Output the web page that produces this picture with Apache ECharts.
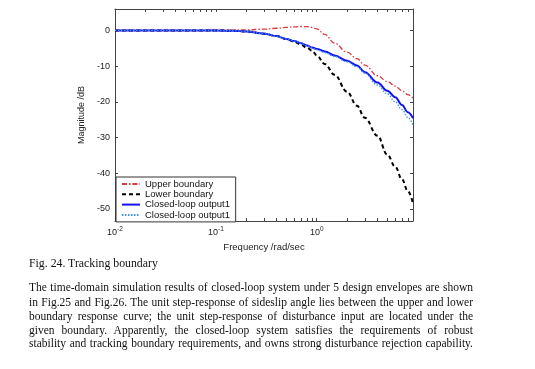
<!DOCTYPE html>
<html><head><meta charset="utf-8">
<script src="https://cdn.jsdelivr.net/npm/echarts@6/dist/echarts.min.js"></script>
<style>
html,body{margin:0;padding:0;background:#fff;}
#chart{position:absolute;left:0;top:0;width:535px;height:369px;}
.ln{position:absolute;left:29px;width:444px;height:14px;line-height:14px;font-family:"Liberation Serif",serif;font-size:11.5px;color:#111;text-align:justify;text-align-last:justify;white-space:nowrap;}
.cap{text-align:left;text-align-last:left;font-size:11.8px;}
</style>
</head><body>
<div id="chart"></div>
<div class="ln cap" style="top:256px">Fig. 24. Tracking boundary</div>
<div class="ln" style="top:280px">The time-domain simulation results of closed-loop system under 5 design envelopes are shown</div>
<div class="ln" style="top:295px">in Fig.25 and Fig.26. The unit step-response of sideslip angle lies between the upper and lower</div>
<div class="ln" style="top:309px">boundary response curve; the unit step-response of disturbance input are located under the</div>
<div class="ln" style="top:323px">given boundary. Apparently, the closed-loop system satisfies the requirements of robust</div>
<div class="ln" style="top:336px">stability and tracking boundary requirements, and owns strong disturbance rejection capability.</div>
<script>
const freq = [0.01, 0.02, 0.05, 0.1, 0.15, 0.2, 0.3, 0.4, 0.5, 0.6, 0.7, 0.8, 0.9, 1.0, 1.2, 1.5, 2, 2.5, 3, 4, 5, 6, 7, 8, 9];
const upperBoundary = [0, 0, 0, 0.05, 0.1, 0.15, 0.35, 0.6, 0.85, 1.0, 1.1, 1.05, 0.85, 0.45, -1.1, -3.6, -6.1, -7.9, -9.7, -12.7, -14.3, -15.6, -16.9, -18.0, -19.0];
const lowerBoundary = [0, 0, 0, -0.02, -0.1, -0.3, -0.9, -1.6, -2.4, -3.2, -4.0, -4.9, -5.7, -7.0, -9.4, -12.4, -17.2, -21.1, -24.5, -29.5, -34.8, -38.2, -41.7, -45.0, -48.5];
const closedLoopA = [0, 0, 0, -0.02, -0.1, -0.3, -0.9, -1.6, -2.4, -3.0, -3.6, -4.2, -4.8, -5.2, -5.9, -7.0, -8.5, -9.8, -11.7, -14.6, -16.9, -18.7, -20.9, -22.9, -24.6];
const closedLoopB = [0, 0, 0, -0.02, -0.1, -0.3, -0.9, -1.6, -2.4, -3.0, -3.6, -4.3, -4.9, -5.4, -6.2, -7.3, -8.8, -10.2, -12.0, -15.3, -17.8, -20.0, -22.2, -24.4, -26.5];
const seriesNames = ['Upper boundary', 'Lower boundary', 'Closed-loop output1', 'Closed-loop output1 '];
const xTickValues = [0.01,0.02,0.03,0.04,0.05,0.06,0.07,0.08,0.09,0.1,0.2,0.3,0.4,0.5,0.6,0.7,0.8,0.9,1,2,3,4,5,6,7,8,9];
const xLabelValues = [0.01, 0.1, 1];
const xLabelExponents = ['-2', '-1', '0'];
const yTickValues = [-50, -40, -30, -20, -10, 0];

const FONT = '"Liberation Sans", Arial, sans-serif';
const axisColor = '#444';
const pair = (vals) => freq.map((f, i) => [f, vals[i]]);

function xAxisDef(pos) {
  const bottom = pos === 'bottom';
  return {
    type: 'log', logBase: 10, min: 0.01, max: 9, position: pos,
    axisLine: { show: true, onZero: false, lineStyle: { color: axisColor, width: 1 } },
    axisTick: { show: true, inside: true, length: 3, customValues: xTickValues, lineStyle: { color: axisColor } },
    axisLabel: {
      show: bottom, customValues: xLabelValues, margin: 5,
      formatter: (v) => {
        const idx = xLabelValues.findIndex(x => Math.abs(x - v) < 1e-9);
        return '{b|10}{s|' + (idx >= 0 ? xLabelExponents[idx] : '') + '}';
      },
      rich: {
        b: { fontFamily: FONT, fontSize: 9, color: '#222' },
        s: { fontFamily: FONT, fontSize: 6.5, color: '#222', padding: [0, 0, 7, 0] }
      }
    },
    splitLine: { show: false },
    minorTick: { show: false },
    name: bottom ? 'Frequency /rad/sec' : '',
    nameLocation: 'middle', nameGap: 15,
    nameTextStyle: { fontFamily: FONT, fontSize: 9.5, color: '#222' }
  };
}
function yAxisDef(pos) {
  const left = pos === 'left';
  return {
    type: 'value', min: -53.4, max: 6, position: pos,
    axisLine: { show: true, onZero: false, lineStyle: { color: axisColor, width: 1 } },
    axisTick: { show: true, inside: true, length: 3, customValues: yTickValues, lineStyle: { color: axisColor } },
    axisLabel: { show: left, customValues: yTickValues, margin: 5, fontFamily: FONT, fontSize: 9, color: '#222' },
    splitLine: { show: false },
    name: left ? 'Magnitude /dB' : '',
    nameLocation: 'middle', nameGap: 17, nameRotate: 90,
    nameTextStyle: { fontFamily: FONT, fontSize: 9, color: '#222' }
  };
}

const chart = echarts.init(document.getElementById('chart'), null, { renderer: 'canvas' });
chart.setOption({
  animation: false,
  backgroundColor: '#fff',
  grid: { left: 115, right: 122, top: 9, bottom: 148, containLabel: false },
  xAxis: [xAxisDef('bottom'), xAxisDef('top')],
  yAxis: [yAxisDef('left'), yAxisDef('right')],
  legend: {
    orient: 'vertical', left: 116, top: 177,
    itemWidth: 18, itemHeight: 8, itemGap: 0.3,
    padding: [2, 3, 2, 5],
    borderColor: '#333', borderWidth: 1, backgroundColor: '#fff',
    itemStyle: { opacity: 0 },
    textStyle: { fontFamily: FONT, fontSize: 9.5, lineHeight: 9, color: '#111' },
    data: seriesNames
  },
  series: [
    { name: seriesNames[0], type: 'line', data: pair(upperBoundary), symbol: 'none', smooth: 0.4, smoothMonotone: 'x',
      lineStyle: { color: '#dc3a3f', width: 1.3, type: [5, 2, 1.5, 2] }, itemStyle: { color: '#dc3a3f' } },
    { name: seriesNames[1], type: 'line', data: pair(lowerBoundary), symbol: 'none', smooth: 0.4, smoothMonotone: 'x',
      lineStyle: { color: '#000', width: 2, type: [4, 3] }, itemStyle: { color: '#000' } },
    { name: seriesNames[2], type: 'line', data: pair(closedLoopA), symbol: 'none', smooth: 0.4, smoothMonotone: 'x',
      lineStyle: { color: '#1414f0', width: 2, type: 'solid' }, itemStyle: { color: '#1414f0' } },
    { name: seriesNames[3], type: 'line', data: pair(closedLoopB), symbol: 'none', smooth: 0.4, smoothMonotone: 'x',
      lineStyle: { color: '#3a93ee', width: 1.3, type: [1.5, 1.5] }, itemStyle: { color: '#3a93ee' } }
  ]
});
</script>
</body></html>
